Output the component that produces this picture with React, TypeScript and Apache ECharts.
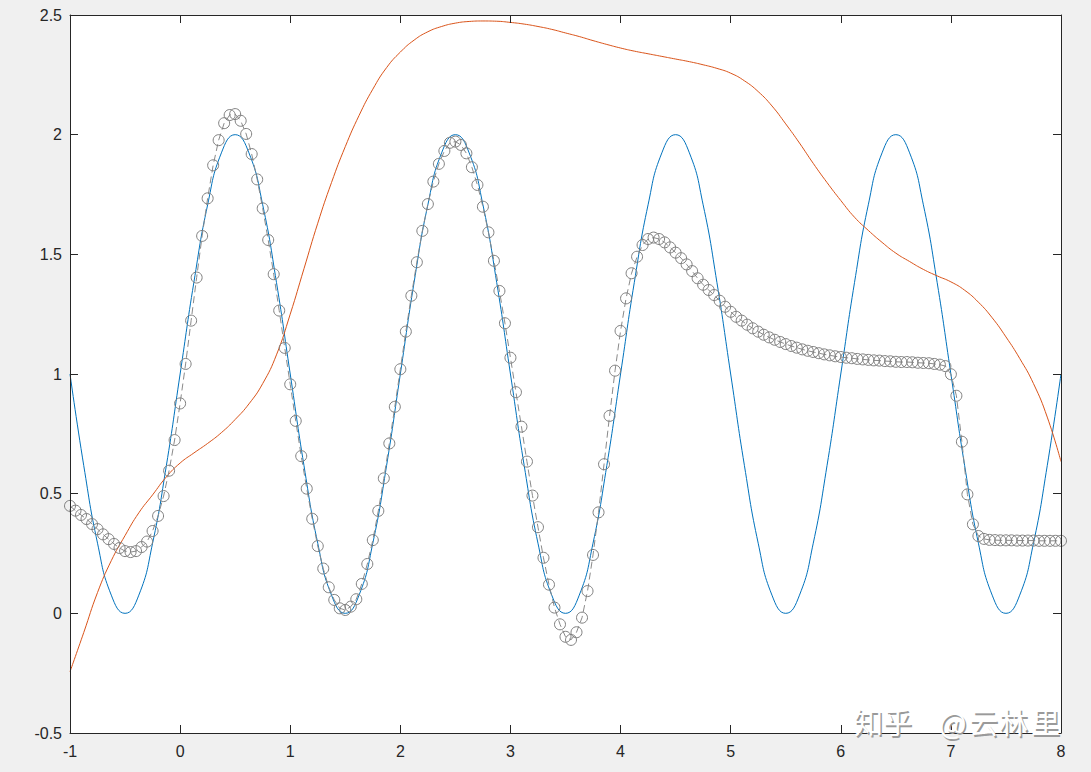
import React, { useEffect, useRef } from "react";
import * as echarts from "echarts";

const xMin = -1;
const xMax = 8;
const yMin = -0.5;
const yMax = 2.5;

// Circle samples (gray dashed with hollow circles), start and step of x
const sampleStart = -1;
const sampleStep = 0.05;
const sampleValues = [
  0.449, 0.429, 0.411, 0.394, 0.373, 0.352, 0.330, 0.310, 0.290, 0.273,
  0.260, 0.256, 0.260, 0.277, 0.300, 0.344, 0.407, 0.490, 0.596, 0.724,
  0.877, 1.042, 1.223, 1.403, 1.577, 1.734, 1.872, 1.977, 2.048, 2.082,
  2.086, 2.058, 2.003, 1.919, 1.813, 1.692, 1.560, 1.417, 1.265, 1.109,
  0.957, 0.804, 0.657, 0.521, 0.395, 0.281, 0.187, 0.109, 0.056, 0.021,
  0.014, 0.028, 0.059, 0.123, 0.206, 0.306, 0.428, 0.564, 0.710, 0.863,
  1.020, 1.177, 1.327, 1.467, 1.598, 1.710, 1.804, 1.878, 1.932, 1.966,
  1.971, 1.957, 1.922, 1.864, 1.790, 1.699, 1.592, 1.473, 1.347, 1.212,
  1.068, 0.924, 0.780, 0.634, 0.492, 0.360, 0.232, 0.120, 0.024, -0.046,
  -0.098, -0.111, -0.079, -0.018, 0.093, 0.244, 0.422, 0.623, 0.825, 1.014,
  1.180, 1.316, 1.421, 1.490, 1.539, 1.564, 1.570, 1.564, 1.550, 1.529,
  1.507, 1.484, 1.458, 1.430, 1.400, 1.373, 1.351, 1.330, 1.306, 1.281,
  1.260, 1.239, 1.223, 1.206, 1.191, 1.177, 1.164, 1.153, 1.143, 1.134,
  1.125, 1.117, 1.110, 1.103, 1.097, 1.092, 1.087, 1.082, 1.078, 1.074,
  1.071, 1.068, 1.066, 1.063, 1.061, 1.059, 1.057, 1.056, 1.054, 1.053,
  1.051, 1.050, 1.050, 1.049, 1.047, 1.046, 1.045, 1.042, 1.039, 1.033,
  0.999, 0.909, 0.717, 0.497, 0.372, 0.323, 0.311, 0.307, 0.306, 0.305,
  0.305, 0.305, 0.304, 0.304, 0.304, 0.304, 0.303, 0.303, 0.303, 0.303,
  0.303,
];

// Blue oscillating curve, sampled every 0.125 from -1
const blueStart = -1;
const blueStep = 0.125;
const blueValues = [
  1, 0.617, 0.293, 0.076, 0, 0.076, 0.293, 0.617, 1, 1.383, 1.707, 1.924, 2, 1.924, 1.707, 1.383,
  1, 0.617, 0.293, 0.076, 0, 0.076, 0.293, 0.617, 1, 1.383, 1.707, 1.924, 2, 1.924, 1.707, 1.383,
  1, 0.617, 0.293, 0.076, 0, 0.076, 0.293, 0.617, 1, 1.383, 1.707, 1.924, 2, 1.924, 1.707, 1.383,
  1, 0.617, 0.293, 0.076, 0, 0.076, 0.293, 0.617, 1, 1.383, 1.707, 1.924, 2, 1.924, 1.707, 1.383,
  1, 0.617, 0.293, 0.076, 0, 0.076, 0.293, 0.617, 1,
];

// Orange smooth curve, sampled every 0.125 from -1
const orangeStart = -1;
const orangeStep = 0.125;
const orangeValues = [
  -0.244, -0.08, 0.087, 0.22, 0.325, 0.42, 0.495, 0.57,
  0.628, 0.67, 0.71, 0.755, 0.81, 0.875, 0.96, 1.08,
  1.25, 1.44, 1.63, 1.8, 1.95, 2.08, 2.19, 2.28,
  2.345, 2.395, 2.43, 2.452, 2.466, 2.473, 2.475, 2.474,
  2.469, 2.462, 2.452, 2.44, 2.425, 2.41, 2.393, 2.377,
  2.362, 2.349, 2.338, 2.327, 2.316, 2.305, 2.292, 2.277,
  2.257, 2.225, 2.18, 2.12, 2.045, 1.965, 1.88, 1.8,
  1.725, 1.655, 1.6, 1.55, 1.505, 1.47, 1.437, 1.41,
  1.385, 1.35, 1.3, 1.235, 1.155, 1.065, 0.96, 0.82,
  0.634,
];

const xTicks = [-1, 0, 1, 2, 3, 4, 5, 6, 7, 8];
const yTicks = [-0.5, 0, 0.5, 1, 1.5, 2, 2.5];

const watermarkChars = ["知", "乎", "@", "云", "林", "里"];

export default function App() {
  const ref = useRef<HTMLDivElement>(null);

  useEffect(() => {
    if (!ref.current) return;
    const chart = echarts.init(ref.current, null, { renderer: "svg" });

    const samples = sampleValues.map((v, i) => [sampleStart + i * sampleStep, v]);
    const blue = blueValues.map((v, i) => [blueStart + i * blueStep, v]);
    const orange = orangeValues.map((v, i) => [orangeStart + i * orangeStep, v]);

    const axisColor = "#262626";
    const labelStyle = {
      color: axisColor,
      fontSize: 16,
      fontFamily: "Liberation Sans, Arial, sans-serif",
    };

    const xInterval = xTicks[1] - xTicks[0];
    const yInterval = yTicks[1] - yTicks[0];

    const axisCommon = (pos: string, showLabel: boolean, margin: number) => ({
      type: "value",
      position: pos,
      axisLine: { show: true, onZero: false, lineStyle: { color: axisColor, width: 1 } },
      axisTick: { show: true, inside: true, length: 8, lineStyle: { color: axisColor } },
      axisLabel: showLabel ? { ...labelStyle, margin } : { show: false },
      splitLine: { show: false },
      z: 10,
    });

    const wmFont = "29px 'Noto Sans CJK SC', sans-serif";
    const wmY = 721;
    const wmX = [854, 883, 939, 969, 999, 1031];
    const wmGraphics: any[] = [];
    watermarkChars.forEach((t, i) => {
      wmGraphics.push({
        type: "text",
        x: wmX[i] + 1.5,
        y: wmY + 1.5,
        z: 100,
        style: { text: t, fill: "#9a9a9a", font: wmFont, textVerticalAlign: "middle" },
      });
      wmGraphics.push({
        type: "text",
        x: wmX[i],
        y: wmY,
        z: 101,
        style: { text: t, fill: "#ffffff", font: wmFont, textVerticalAlign: "middle" },
      });
    });

    const option: any = {
      animation: false,
      backgroundColor: "#f0f0f0",
      grid: {
        left: 70,
        right: 30,
        top: 15,
        bottom: 39,
        show: true,
        backgroundColor: "#ffffff",
        borderWidth: 0,
      },
      xAxis: [
        { ...axisCommon("bottom", true, 10), min: xMin, max: xMax, interval: xInterval },
        { ...axisCommon("top", false, 0), min: xMin, max: xMax, interval: xInterval },
      ],
      yAxis: [
        { ...axisCommon("left", true, 8), min: yMin, max: yMax, interval: yInterval },
        { ...axisCommon("right", false, 0), min: yMin, max: yMax, interval: yInterval },
      ],
      series: [
        {
          type: "line",
          data: blue,
          smooth: true,
          showSymbol: false,
          symbol: "none",
          lineStyle: { color: "#0072BD", width: 1 },
          itemStyle: { color: "#0072BD" },
          z: 2,
        },
        {
          type: "line",
          data: orange,
          smooth: true,
          showSymbol: false,
          symbol: "none",
          lineStyle: { color: "#D95319", width: 1 },
          itemStyle: { color: "#D95319" },
          z: 2,
        },
        {
          type: "line",
          data: samples,
          symbol: "circle",
          symbolSize: 11,
          showSymbol: true,
          showAllSymbol: true,
          lineStyle: { color: "#8a8a8a", width: 1, type: [7, 4] },
          itemStyle: { color: "rgba(0,0,0,0)", borderColor: "#7f7f7f", borderWidth: 1 },
          z: 3,
        },
      ],
      graphic: wmGraphics,
    };

    chart.setOption(option);
    return () => chart.dispose();
  }, []);

  return (
    <div
      ref={ref}
      style={{ position: "fixed", left: 0, top: 0, width: 1091, height: 772 }}
    />
  );
}
